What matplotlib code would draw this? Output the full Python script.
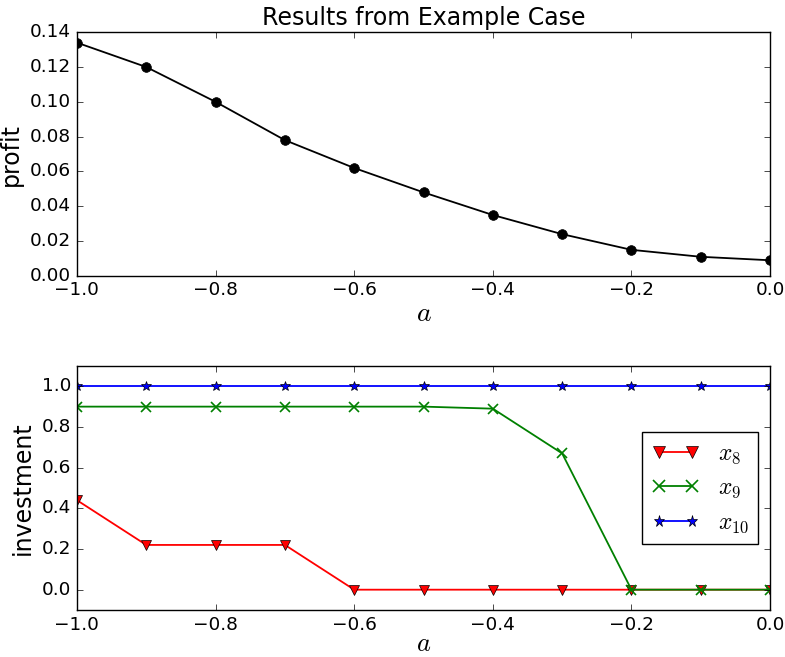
import matplotlib
matplotlib.use("Agg")
import matplotlib.pyplot as plt
import numpy as np

plt.style.use("classic")
plt.rcParams["mathtext.fontset"] = "cm"
plt.rcParams["font.family"] = ["DejaVu Sans"]

a_vals = [-1.0, -0.9, -0.8, -0.7, -0.6, -0.5, -0.4, -0.3, -0.2, -0.1, 0.0]
profit = [0.134, 0.120, 0.100, 0.078, 0.062, 0.048, 0.035, 0.024, 0.015, 0.011, 0.009]
x8 = [0.44, 0.22, 0.22, 0.22, 0.0, 0.0, 0.0, 0.0, 0.0, 0.0, 0.0]
x9 = [0.90, 0.90, 0.90, 0.90, 0.90, 0.90, 0.89, 0.67, 0.0, 0.0, 0.0]
x10 = [1.0, 1.0, 1.0, 1.0, 1.0, 1.0, 1.0, 1.0, 1.0, 1.0, 1.0]

fig = plt.figure(figsize=(7.85, 6.57), dpi=100, facecolor="white")
ax1 = fig.add_axes([0.098, 0.580, 0.883, 0.371])
ax2 = fig.add_axes([0.098, 0.0715, 0.883, 0.3715])

ax1.plot(a_vals, profit, "k-o", lw=1.3, ms=7)
ax1.set_xlim(-1.0, 0.0)
ax1.set_ylim(0.0, 0.14)
ax1.set_yticks(np.arange(0, 0.141, 0.02))
ax1.set_title("Results from Example Case", fontsize=17)
ax1.set_ylabel("profit", fontsize=17)
ax1.set_xlabel("$a$", fontsize=20, labelpad=0)

ax2.plot(a_vals, x8, "r-v", lw=1.3, ms=7, mec="k", label="$x_8$")
ax2.plot(a_vals, x9, "g-x", lw=1.3, ms=7, mew=1.2, label="$x_9$")
ax2.plot(a_vals, x10, "b-*", lw=1.3, ms=7, mec="k", label="$x_{10}$")
ax2.set_xlim(-1.0, 0.0)
ax2.set_ylim(-0.1, 1.1)
ax2.set_yticks(np.arange(0, 1.01, 0.2))
ax2.set_ylabel("investment", fontsize=17)
ax2.set_xlabel("$a$", fontsize=19, labelpad=-2)
leg = ax2.legend(loc="center right", fontsize=17, numpoints=2,
                 borderaxespad=0.5, labelspacing=0.4, handlelength=2.0,
                 markerscale=1.15)
leg.get_frame().set_linewidth(1.0)

for ax in (ax1, ax2):
    ax.tick_params(labelsize=13.3)
    ax.set_xticks(np.arange(-1.0, 0.01, 0.2))

fig.savefig("out.png", dpi=100, facecolor="white")
